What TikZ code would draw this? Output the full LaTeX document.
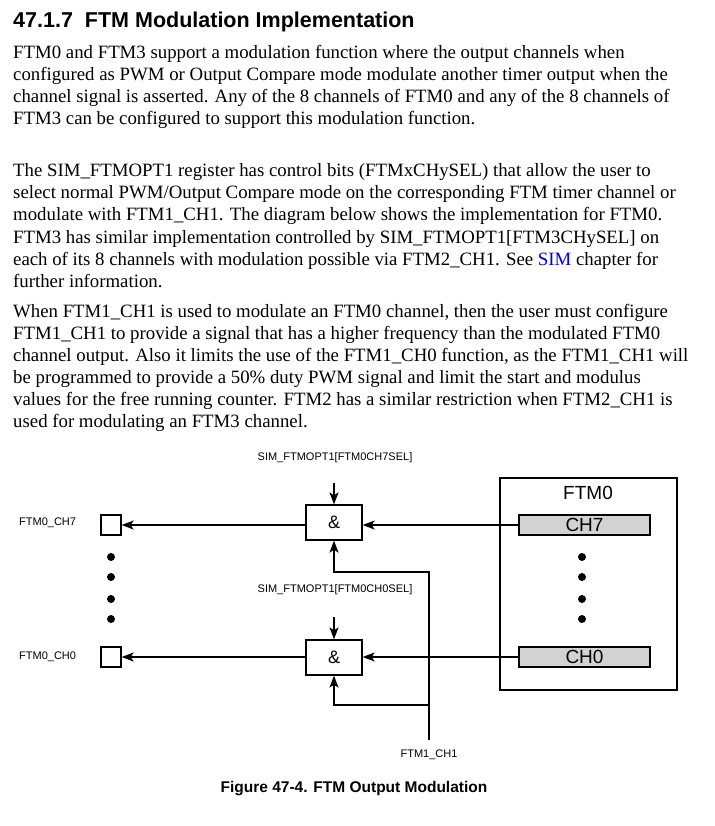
\documentclass[tikz,border=0pt]{standalone}
\usepackage{fontspec}
\setmainfont{Liberation Serif}
\setsansfont{Liberation Sans}
\usetikzlibrary{arrows.meta}
\definecolor{linkblue}{RGB}{0,0,238}
\definecolor{chgray}{RGB}{210,210,210}
\tikzset{
  txt/.style={anchor=base west,inner sep=0pt,font=\fontsize{18.8}{20}\selectfont},
  lbl/.style={inner sep=0pt,font=\sffamily\fontsize{11}{12}\selectfont},
  gate/.style={draw,line width=1.3pt,minimum width=56pt,minimum height=35pt,font=\sffamily\fontsize{18}{18}\selectfont},
  chbar/.style={draw,line width=1.3pt,fill=chgray,minimum width=131pt,minimum height=20pt,font=\sffamily\fontsize{19}{18}\selectfont},
  pin/.style={draw,line width=1.3pt,minimum size=20pt,inner sep=0pt},
  sig/.style={line width=1.2pt,-{Stealth[length=12pt,width=9pt,inset=3pt]}},
  dot/.style={circle,fill,inner sep=0pt,minimum size=8pt}
}
\begin{document}
\begin{tikzpicture}[x=1pt,y=-1pt]
  \useasboundingbox (0,0) rectangle (714,826);
  % heading and text
  \node[anchor=base west,inner sep=0pt,font=\sffamily\bfseries\fontsize{21.5}{22}\selectfont] (head) at (13,28) {47.1.7\hspace{12pt}FTM Modulation Implementation};
  \node[txt] (p1a) at (13,59) {FTM0 and FTM3 support a modulation function where the output channels when};
  \node[txt] (p1b) at (13,81) {configured as PWM or Output Compare mode modulate another timer output when the};
  \node[txt] (p1c) at (13,103) {channel signal is asserted. Any of the 8 channels of FTM0 and any of the 8 channels of};
  \node[txt] (p1d) at (13,125) {FTM3 can be configured to support this modulation function.};
  \node[txt] (p2a) at (13,177) {The SIM\_FTMOPT1 register has control bits (FTMxCHySEL) that allow the user to};
  \node[txt] (p2b) at (13,199) {select normal PWM/Output Compare mode on the corresponding FTM timer channel or};
  \node[txt] (p2c) at (13,221) {modulate with FTM1\_CH1. The diagram below shows the implementation for FTM0.};
  \node[txt] (p2d) at (13,243) {FTM3 has similar implementation controlled by SIM\_FTMOPT1[FTM3CHySEL] on};
  \node[txt] (p2e) at (13,265) {each of its 8 channels with modulation possible via FTM2\_CH1. See \textcolor{linkblue}{SIM} chapter for};
  \node[txt] (p2f) at (13,287) {further information.};
  \node[txt] (p3a) at (13,317) {When FTM1\_CH1 is used to modulate an FTM0 channel, then the user must configure};
  \node[txt] (p3b) at (13,339) {FTM1\_CH1 to provide a signal that has a higher frequency than the modulated FTM0};
  \node[txt] (p3c) at (13,361) {channel output. Also it limits the use of the FTM1\_CH0 function, as the FTM1\_CH1 will};
  \node[txt] (p3d) at (13,383) {be programmed to provide a 50\% duty PWM signal and limit the start and modulus};
  \node[txt] (p3e) at (13,405) {values for the free running counter. FTM2 has a similar restriction when FTM2\_CH1 is};
  \node[txt] (p3f) at (13,427) {used for modulating an FTM3 channel.};
  % diagram
  \draw[line width=1.3pt] (500,478) rectangle (677,690);
  \node[font=\sffamily\fontsize{19}{18}\selectfont] (ftm) at (588,493) {FTM0};
  \node[chbar] (ch7) at (584.5,525) {CH7};
  \node[chbar] (ch0) at (584.5,657) {CH0};
  \node[gate] (and7) at (334,522.5) {\&};
  \node[gate] (and0) at (334,657.5) {\&};
  \node[pin] (out7) at (111,525) {};
  \node[pin] (out0) at (111,657) {};
  \node[lbl,anchor=west] (n7) at (19,523) {FTM0\_CH7};
  \node[lbl,anchor=west] (n0) at (19,657) {FTM0\_CH0};
  \node[lbl] (sel7) at (335,458) {SIM\_FTMOPT1[FTM0CH7SEL]};
  \node[lbl] (sel0) at (335,590) {SIM\_FTMOPT1[FTM0CH0SEL]};
  \node[lbl] (mod) at (429,755) {FTM1\_CH1};
  \foreach \y in {557,577,599,619} {
    \node[dot] at (111,\y) {};
    \node[dot] at (582,\y) {};
  }
  \coordinate (top7) at (334,483);
  \coordinate (top0) at (334,617);
  \draw[sig] (top7) -- (and7.north);
  \draw[sig] (top0) -- (and0.north);
  \draw[sig] (ch7.west) -- (and7.east |- ch7.west);
  \draw[sig] (ch0.west) -- (and0.east |- ch0.west);
  \draw[sig] (and7.west |- out7) -- (out7.east);
  \draw[sig] (and0.west |- out0) -- (out0.east);
  \coordinate (tap) at (429,740);
  \draw[sig] (tap) -- (429,572) -| (and7.south);
  \draw[sig] (429,705) -| (and0.south);
  % caption
  \node[font=\sffamily\bfseries\fontsize{15.5}{16}\selectfont] (cap) at (354,789) {Figure 47-4. FTM Output Modulation};
\end{tikzpicture}
\end{document}
